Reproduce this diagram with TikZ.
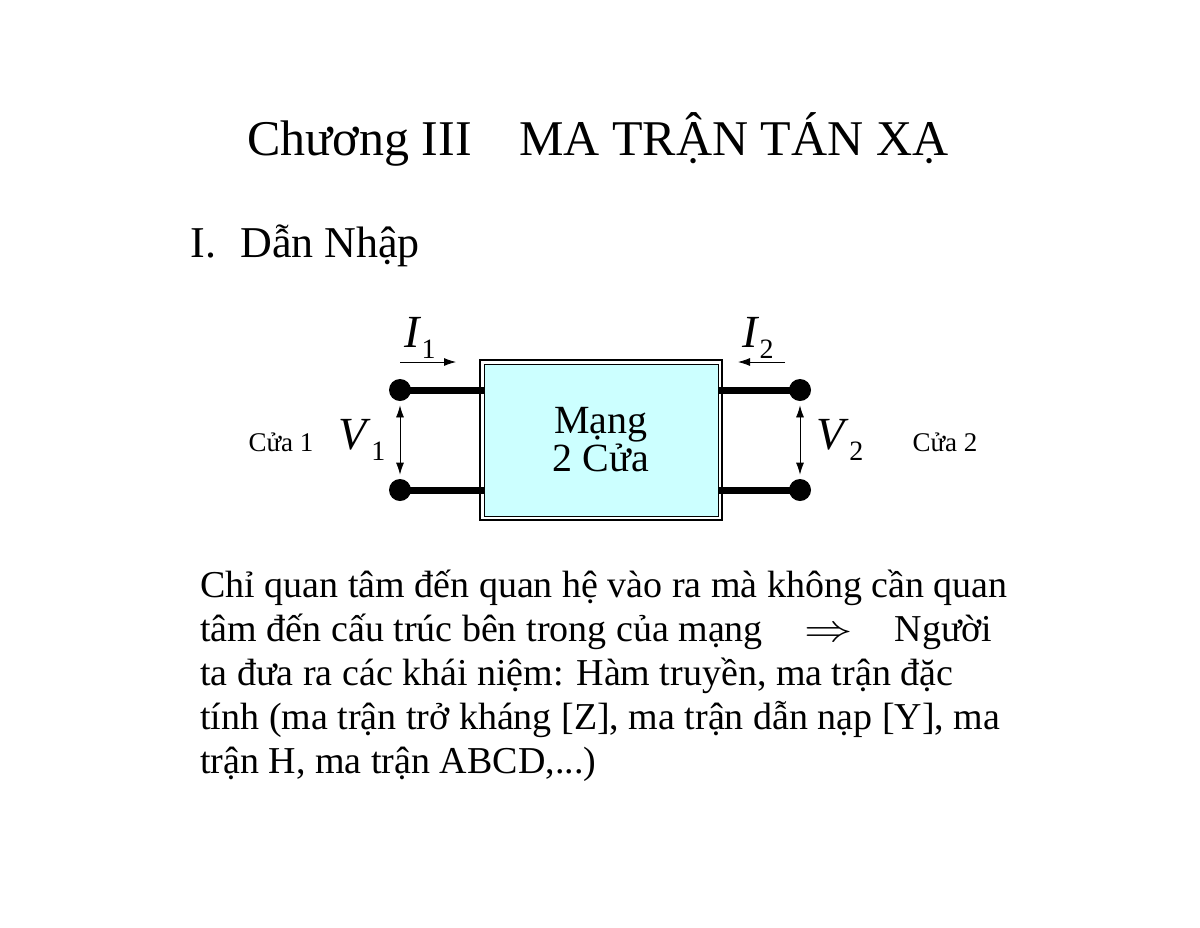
\documentclass[tikz,border=0pt]{standalone}
\usepackage{fontspec}
\setmainfont{Liberation Serif}
\usetikzlibrary{arrows.meta,positioning}

\definecolor{netfill}{RGB}{204,255,255}

\newcommand{\portvar}[2]{\textit{#1}\raisebox{-0.5ex}{\fontsize{14}{14}\selectfont #2}}

\tikzset{
  dot/.style={circle, fill=black, inner sep=0pt, minimum size=11pt},
  wire/.style={line width=3.5pt},
  flow/.style={thin, -{Latex[length=6pt,width=4pt]}},
  volt/.style={thin, {Latex[length=6pt,width=4pt]}-{Latex[length=6pt,width=4pt]}, shorten <=2pt, shorten >=2pt},
  portname/.style={font=\fontsize{13.5}{15}\selectfont},
  bigvar/.style={font=\fontsize{23}{24}\selectfont},
  bodyline/.style={anchor=base west, inner sep=0pt, font=\fontsize{19}{22}\selectfont},
}

\begin{document}
\begin{tikzpicture}[x=0.5pt, y=-0.5pt]
\useasboundingbox (0,0) rectangle (1200,927);
\fill[white] (0,0) rectangle (1200,927);

% headings
\node[anchor=base, font=\fontsize{25}{28}\selectfont] (title) at (598,155) {Chương III\hspace{0.95em}MA TRẬN TÁN XẠ};
\node[anchor=base west, inner sep=0pt, font=\fontsize{22}{24}\selectfont] (intro) at (190,257) {I.\hspace{0.55em}Dẫn Nhập};

% ports
\node[dot] (p1a) at (400,390) {};
\node[dot] (p1b) at (400,490) {};
\node[dot] (p2a) at (800,390) {};
\node[dot] (p2b) at (800,490) {};

% two-port block
\draw[line width=1.3pt] (480,360) rectangle (722,520);
\node[draw, thin, fill=netfill, minimum width=117pt, minimum height=76pt, align=center,
      font=\fontsize{20}{19}\selectfont] (mang) at (601,440) {Mạng\\2 Cửa};

\draw[wire] (p1a.center) -- (p1a -| mang.west);
\draw[wire] (p1b.center) -- (p1b -| mang.west);
\draw[wire] (p2a.center) -- (p2a -| mang.east);
\draw[wire] (p2b.center) -- (p2b -| mang.east);

\draw[volt] (p1a) -- (p1b);
\draw[volt] (p2a) -- (p2b);

% currents
\coordinate (i1s) at (400,362);
\coordinate (i1e) at (456,362);
\coordinate (i2s) at (785,362);
\coordinate (i2e) at (738,362);
\draw[flow] (i1s) -- (i1e);
\draw[flow] (i2s) -- (i2e);
\node[bigvar] (i1) at (420,338) {\portvar{I}{1}};
\node[bigvar] (i2) at (758,338) {\portvar{I}{2}};

% voltages and port names
\node[bigvar] (v1) at (362,440) {\portvar{V}{1}};
\node[bigvar] (v2) at (840,440) {\portvar{V}{2}};
\node[portname] (c1) at (281,442) {Cửa 1};
\node[portname] (c2) at (945,442) {Cửa 2};

% text
\node[bodyline] (l1) at (200,597) {Chỉ quan tâm đến quan hệ vào ra mà không cần quan};
\node[bodyline] (l2) at (200,641) {tâm đến cấu trúc bên trong của mạng\hspace{1.1em}\scalebox{1.4}[1.1]{$\Rightarrow$}\hspace{1.1em}Người};
\node[bodyline] (l3) at (200,685) {ta đưa ra các khái niệm: Hàm truyền, ma trận đặc};
\node[bodyline] (l4) at (200,729) {tính (ma trận trở kháng [Z], ma trận dẫn nạp [Y], ma};
\node[bodyline] (l5) at (200,773) {trận H, ma trận ABCD,...)};
\end{tikzpicture}
\end{document}
